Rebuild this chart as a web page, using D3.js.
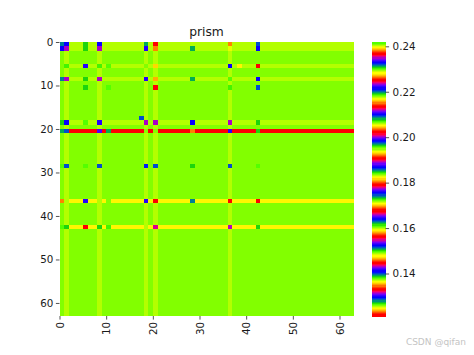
<!doctype html>
<html lang="en">

<head>
    <meta charset="utf-8">
    <title>prism</title>
    <script src="https://cdn.jsdelivr.net/npm/d3@7"></script>
    <style>
        body {
            margin: 0;
            background: #fff;
        }

        svg {
            display: block;
        }

        text {
            font-family: "DejaVu Sans", sans-serif;
            fill: #1a1a1a;
        }
    </style>
</head>

<body>
    <svg></svg>
    <script>
        var width = 474;
        var height = 355;

        var matrixSize = 63;
        var valueRange = [0.1213, 0.2419];
        var background = 0.24143;
        var heatTicks = [0, 10, 20, 30, 40, 50, 60];
        var barTicks = [0.14, 0.16, 0.18, 0.20, 0.22, 0.24];

        // whole rows and columns that differ from the background
        var stripCols = [1, 8, 18, 20, 36];
        var stripColValues = [0.24100, 0.24100, 0.24100, 0.24100, 0.24100];
        var stripRows = [0, 1, 5, 8, 18, 20, 36, 42];
        var stripRowValues = [0.24090, 0.24105, 0.24100, 0.24100, 0.24115, 0.2367, 0.23987, 0.23987];

        // single cells: [row, col, value]
        var cells = [
            [0, 0, 0.23200], [0, 1, 0.23324], [0, 5, 0.23100], [0, 8, 0.23324], [0, 18, 0.23151], [0, 20, 0.2367], [0, 28, 0.24074], [0, 36, 0.23860], [0, 42, 0.23237],
            [1, 0, 0.23324], [1, 1, 0.23526], [1, 5, 0.23093], [1, 8, 0.23526], [1, 18, 0.23381], [1, 20, 0.23860], [1, 28, 0.23151], [1, 36, 0.24040], [1, 42, 0.23324],
            [5, 0, 0.24160], [5, 1, 0.23064], [5, 5, 0.23381], [5, 8, 0.23064], [5, 10, 0.24180], [5, 18, 0.24120], [5, 20, 0.23960], [5, 36, 0.23324], [5, 38, 0.23987], [5, 42, 0.2367],
            [8, 0, 0.23200], [8, 1, 0.23526], [8, 5, 0.23093], [8, 8, 0.23526], [8, 18, 0.23381], [8, 20, 0.23901], [8, 28, 0.23151], [8, 36, 0.24180], [8, 42, 0.23324],
            [10, 5, 0.23093], [10, 10, 0.24180], [10, 20, 0.2367], [10, 36, 0.23064], [10, 42, 0.23237],
            [17, 17, 0.23237],
            [18, 0, 0.23093], [18, 1, 0.23324], [18, 5, 0.24180], [18, 8, 0.23381], [18, 18, 0.23526], [18, 20, 0.23526], [18, 28, 0.23324], [18, 36, 0.23526], [18, 42, 0.23093],
            [20, 0, 0.23151], [20, 1, 0.23237], [20, 5, 0.23650], [20, 8, 0.23450], [20, 10, 0.23151], [20, 18, 0.24143], [20, 20, 0.24143], [20, 28, 0.23860], [20, 36, 0.23381], [20, 42, 0.23093],
            [28, 0, 0.24180], [28, 1, 0.23237], [28, 5, 0.24180], [28, 8, 0.23237], [28, 18, 0.23280], [28, 20, 0.23237], [28, 28, 0.23093], [28, 36, 0.23237], [28, 42, 0.24180],
            [36, 0, 0.23860], [36, 1, 0.24074], [36, 5, 0.23381], [36, 8, 0.24074], [36, 10, 0.24143], [36, 18, 0.23381], [36, 20, 0.2367], [36, 28, 0.23200], [36, 36, 0.2367], [36, 42, 0.2367],
            [42, 0, 0.24180], [42, 1, 0.23093], [42, 5, 0.2367], [42, 8, 0.23093], [42, 9, 0.23987], [42, 10, 0.23064], [42, 18, 0.24074], [42, 20, 0.23580], [42, 28, 0.24000], [42, 36, 0.23526], [42, 42, 0.23093]
        ];

        // matplotlib's prism colormap, 256 steps
        function prism(t) {
            var x = Math.round(Math.max(0, Math.min(1, t)) * 255) / 255;
            var r = 0.75 * Math.sin((x * 20.9 + 0.25) * Math.PI) + 0.67;
            var g = 0.75 * Math.sin((x * 20.9 - 0.25) * Math.PI) + 0.33;
            var b = -1.1 * Math.sin(x * 20.9 * Math.PI);
            function clip(c) { return Math.round(Math.max(0, Math.min(1, c)) * 255); }
            return "rgb(" + clip(r) + "," + clip(g) + "," + clip(b) + ")";
        }

        var color = d3.scaleSequential(prism).domain(valueRange);

        var svg = d3.select('svg').attr('width', width).attr('height', height);

        var xScale = d3.scaleLinear().domain([0, matrixSize]).range([59.5, 353.5]);
        var yScale = d3.scaleLinear().domain([0, matrixSize]).range([42, 316]);
        var barScale = d3.scaleLinear().domain(valueRange).range([316, 42]);

        // build the matrix
        var matrix = d3.range(matrixSize).map(function () {
            return d3.range(matrixSize).map(function () { return background; });
        });
        stripCols.forEach(function (c, i) {
            matrix.forEach(function (row) { row[c] = stripColValues[i]; });
        });
        stripRows.forEach(function (r, i) {
            matrix[r] = matrix[r].map(function () { return stripRowValues[i]; });
        });
        cells.forEach(function (d) { matrix[d[0]][d[1]] = d[2]; });

        var cellData = [];
        matrix.forEach(function (row, r) {
            row.forEach(function (v, c) { cellData.push({ r: r, c: c, v: v }); });
        });

        svg.append('g').attr('shape-rendering', 'crispEdges').selectAll('rect')
            .data(cellData)
            .enter()
            .append('rect')
            .attr('x', function (d) { return xScale(d.c); })
            .attr('y', function (d) { return yScale(d.r); })
            .attr('width', xScale(1) - xScale(0))
            .attr('height', yScale(1) - yScale(0))
            .attr('fill', function (d) { return color(d.v); });

        // axes
        var xAxis = svg.append('g')
            .attr('transform', 'translate(0,316)')
            .call(d3.axisBottom(xScale).tickValues(heatTicks).tickSize(3.6).tickPadding(2).tickFormat(d3.format('d')));
        xAxis.selectAll('text')
            .attr('font-size', '10.3px')
            .attr('transform', 'rotate(-90)')
            .attr('text-anchor', 'end')
            .attr('dy', '0.35em')
            .attr('x', -6)
            .attr('y', 0);

        var yAxis = svg.append('g')
            .attr('transform', 'translate(59.5,0)')
            .call(d3.axisLeft(yScale).tickValues(heatTicks).tickSize(3.6).tickPadding(2.5).tickFormat(d3.format('d')));
        yAxis.selectAll('text').attr('font-size', '10.3px');

        // colorbar, one strip per colormap step
        svg.append('g').attr('shape-rendering', 'crispEdges').selectAll('rect')
            .data(d3.range(256))
            .enter()
            .append('rect')
            .attr('x', 372)
            .attr('width', 13.5)
            .attr('y', function (i) { return barScale(valueRange[0] + (i + 1) / 256 * (valueRange[1] - valueRange[0])); })
            .attr('height', (316 - 42) / 256 + 0.5)
            .attr('fill', function (i) { return prism(i / 255); });

        var barAxis = svg.append('g')
            .attr('transform', 'translate(385.5,0)')
            .call(d3.axisRight(barScale).tickValues(barTicks).tickSize(3.6).tickPadding(3.5).tickFormat(d3.format('.2f')));
        barAxis.selectAll('text').attr('font-size', '10.3px');

        [xAxis, yAxis, barAxis].forEach(function (a) {
            a.select('.domain').remove();
            a.selectAll('line').attr('stroke', '#1a1a1a').attr('stroke-width', 0.75);
            a.attr('font-family', null);
        });

        svg.append('text')
            .attr('x', 206.5)
            .attr('y', 36)
            .attr('text-anchor', 'middle')
            .attr('font-size', '12.3px')
            .text('prism');

        svg.append('text')
            .attr('x', 466)
            .attr('y', 345)
            .attr('text-anchor', 'end')
            .attr('font-size', '9px')
            .style('fill', '#c4c4c4')
            .text('CSDN @qifan');
    </script>

</body>

</html>
